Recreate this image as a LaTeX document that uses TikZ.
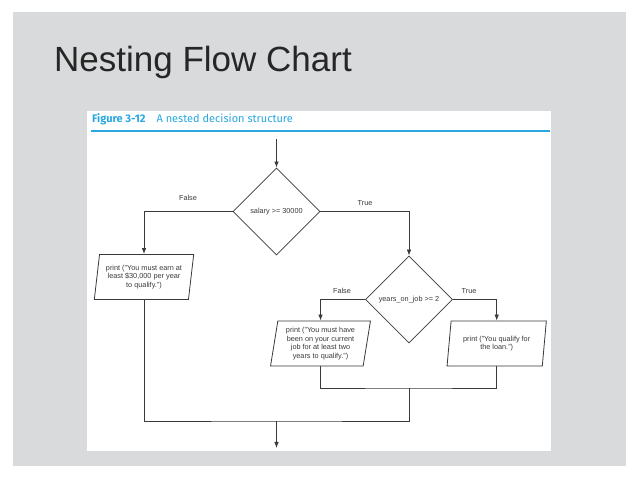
\documentclass[tikz,border=0pt]{standalone}
\usepackage{fontspec}
\setmainfont{Liberation Sans}
\newfontfamily\capfont{Fira Sans}
\usetikzlibrary{shapes.geometric,arrows.meta}
\definecolor{slidegray}{HTML}{D9DADC}
\definecolor{figblue}{HTML}{29A8E0}
\definecolor{inkgray}{HTML}{3A3A3A}
\tikzset{
  decision/.style={diamond, draw=inkgray, line width=.8pt, minimum width=87pt, minimum height=87pt, inner sep=0pt, text=inkgray, font=\fontsize{7.3}{8.6}\selectfont},
  printbox/.style={trapezium, trapezium left angle=80, trapezium right angle=100, trapezium stretches=true, draw=inkgray, line width=.8pt, minimum width=100pt, minimum height=45pt, inner sep=1pt, align=center, text=inkgray, font=\fontsize{7.3}{8.6}\selectfont},
  flowline/.style={draw=inkgray, line width=.8pt},
  flowarrow/.style={flowline, -{Latex[length=6pt,width=4.5pt]}},
  lbl/.style={text=inkgray, font=\fontsize{7.3}{8.6}\selectfont}
}
\begin{document}
\begin{tikzpicture}[x=1pt,y=-1pt]
\useasboundingbox (0,0) rectangle (638,478);
\fill[white] (0,0) rectangle (638,478);
\fill[slidegray] (13,12) rectangle (626,466);
\node[anchor=base west, inner sep=0pt, text=black!85, font=\fontsize{35}{42}\selectfont] (title) at (54,72) {Nesting Flow Chart};
\fill[white] (87,111) rectangle (551,451);
\node[anchor=base west, inner sep=0pt, text=figblue, font=\capfont\fontsize{11}{13}\selectfont] (caption) at (92,123) {\textbf{Figure 3-12}\quad A nested decision structure};
\draw[figblue, line width=1.3pt] (91,131) -- (550,131);
% decisions and outputs
\node[decision] (salary) at (276.5,211.5) {salary >= 30000};
\node[decision] (years) at (409,299.5) {years\_on\_job >= 2};
\node[printbox] (earn) at (144,277) {print ("You must earn at\\least \$30,000 per year\\to qualify.")};
\node[printbox] (have) at (320.5,343.5) {print ("You must have\\been on your current\\job for at least two\\years to qualify.")};
\node[printbox] (loan) at (496.7,343.5) {print ("You qualify for\\the loan.")};
% branch labels
\node[lbl] (f1) at (188,198) {False};
\node[lbl] (t1) at (365,203) {True};
\node[lbl] (f2) at (342,291) {False};
\node[lbl] (t2) at (469,291) {True};
% connectors
\coordinate (start) at (276.5,139);
\coordinate (join2) at (409,388);
\coordinate (join1) at (276.5,421);
\coordinate (stop) at (276.5,448);
\draw[flowarrow] (start) -- (salary.north);
\draw[flowarrow] (salary.west) -| (earn.north);
\draw[flowarrow] (salary.east) -| (years.north);
\draw[flowarrow] (years.west) -| (have.north);
\draw[flowarrow] (years.east) -| (loan.north);
\draw[flowline] (have.south) |- (join2) -| (loan.south);
\draw[flowline] (earn.south) |- (join1) -| (join2);
\draw[flowarrow] (join1) -- (stop);
\end{tikzpicture}
\end{document}
